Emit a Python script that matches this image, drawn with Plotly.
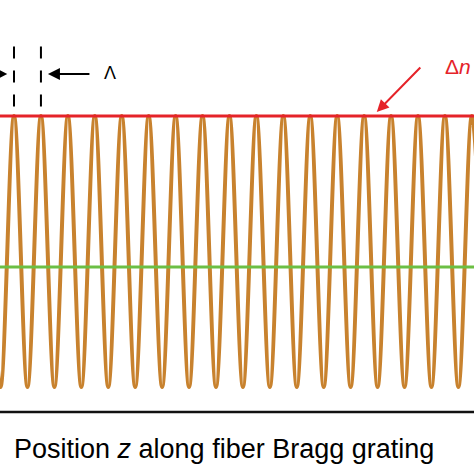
import plotly.graph_objects as go

# Extremes of the refractive index modulation (position in grating periods, normalized index)
z_points = [-1.0, -0.5, 0.0, 0.5, 1.0, 1.5, 2.0, 2.5, 3.0, 3.5, 4.0, 4.5, 5.0, 5.5,
            6.0, 6.5, 7.0, 7.5, 8.0, 8.5, 9.0, 9.5, 10.0, 10.5, 11.0, 11.5, 12.0,
            12.5, 13.0, 13.5, 14.0, 14.5, 15.0, 15.5, 16.0, 16.5, 17.0, 17.5]
n_points = [1, -1, 1, -1, 1, -1, 1, -1, 1, -1, 1, -1, 1, -1,
            1, -1, 1, -1, 1, -1, 1, -1, 1, -1, 1, -1, 1,
            -1, 1, -1, 1, -1, 1, -1, 1, -1, 1, -1]
delta_n_level = 1.0      # red line (max modulation)
mean_level = -0.114      # green line (average index)
axis_level = -1.185      # black z-axis
period_marks = [0, 1]    # dashed lines marking one period Λ

x_range = [-0.52, 17.08]
y_range = [-1.642, 1.856]

fig = go.Figure()

fig.add_trace(go.Scatter(
    x=z_points, y=n_points, mode="lines",
    line=dict(color="#c8822e", width=4, shape="spline", smoothing=1.0),
    hoverinfo="skip", showlegend=False))

# Horizontal reference lines
fig.add_trace(go.Scatter(x=[x_range[0] - 1, x_range[1] + 1], y=[delta_n_level] * 2,
                         mode="lines", line=dict(color="#e52329", width=3),
                         showlegend=False, hoverinfo="skip"))
fig.add_trace(go.Scatter(x=[x_range[0] - 1, x_range[1] + 1], y=[mean_level] * 2,
                         mode="lines", line=dict(color="#6cbf44", width=3),
                         showlegend=False, hoverinfo="skip"))
fig.add_trace(go.Scatter(x=[x_range[0] - 1, x_range[1] + 1], y=[axis_level] * 2,
                         mode="lines", line=dict(color="#111111", width=2.5),
                         showlegend=False, hoverinfo="skip"))

# Dashed period markers
for zm in period_marks:
    fig.add_trace(go.Scatter(x=[zm, zm], y=[1.07, 1.525], mode="lines",
                             line=dict(color="black", width=2, dash="12px,12px"),
                             showlegend=False, hoverinfo="skip"))

annotations = [
    # left arrow pointing right to first dashed line
    dict(x=-0.25, y=1.31, xref="x", yref="y", text="", showarrow=True,
         ax=-25, ay=0, arrowhead=2, arrowsize=1.2, arrowwidth=2, arrowcolor="black"),
    # right arrow pointing left to second dashed line
    dict(x=1.26, y=1.31, xref="x", yref="y", text="", showarrow=True,
         ax=43, ay=0, arrowhead=2, arrowsize=1.2, arrowwidth=2, arrowcolor="black"),
    dict(x=(110 - 14) / 26.94, y=(251.5 - 73.5) / 135.5, xref="x", yref="y", text="Λ",
         showarrow=False,
         font=dict(family="Liberation Sans, Arial", size=18, color="black"),
         xanchor="center", yanchor="middle"),
    # Δn arrow
    dict(x=13.47, y=1.03, xref="x", yref="y", text="", showarrow=True,
         ax=45, ay=-46, arrowhead=2, arrowsize=1.2, arrowwidth=2, arrowcolor="#e52329"),
    dict(x=1.0, y=(251.5 - 67) / 135.5, xref="paper", yref="y", text="Δ<i>n</i>",
         showarrow=False,
         font=dict(family="Liberation Sans, Arial", size=21, color="#e52329"),
         xanchor="right", yanchor="middle", xshift=-1),
    dict(x=(224 - 14) / 26.94, y=-(449 - 251.5) / 135.5, xref="x", yref="y",
         text="Position <i>z</i> along fiber Bragg grating", showarrow=False,
         font=dict(family="Liberation Sans, Arial", size=27, color="black"),
         xanchor="center", yanchor="middle"),
]

fig.update_layout(
    width=474, height=474,
    margin=dict(l=0, r=0, t=0, b=0),
    paper_bgcolor="white", plot_bgcolor="white",
    xaxis=dict(range=x_range, visible=False, fixedrange=True),
    yaxis=dict(range=y_range, visible=False, fixedrange=True),
    annotations=annotations,
    showlegend=False,
)

fig.write_html("out.html", config={"displayModeBar": False},
               post_script="document.body.style.margin='0';document.body.style.overflow='hidden';")
